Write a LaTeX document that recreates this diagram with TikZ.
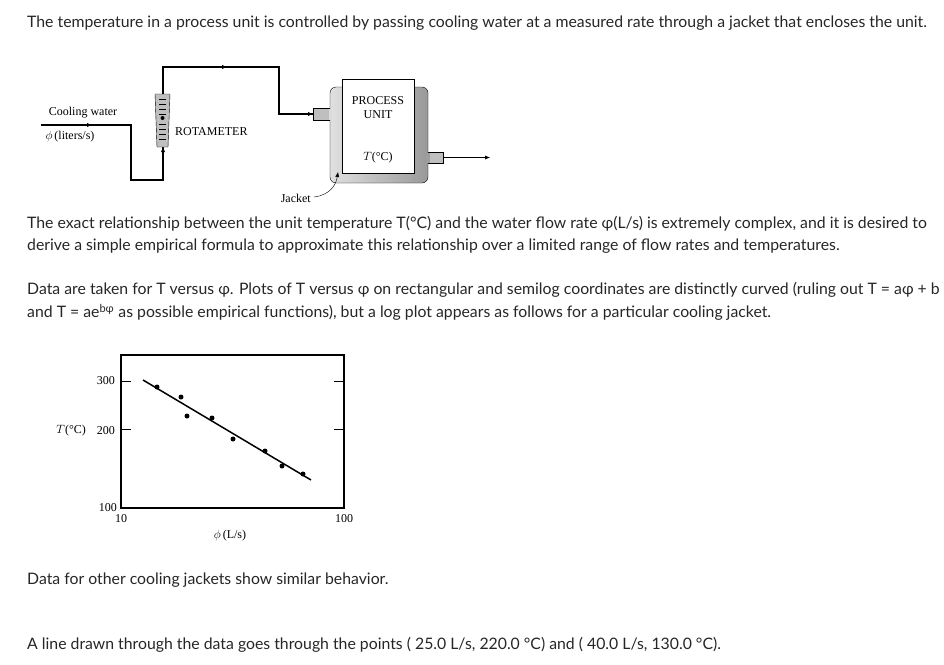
\documentclass[tikz,border=0pt]{standalone}
\usepackage{fontspec}
\setmainfont{Lato}
\newfontfamily\tms{Liberation Serif}
\usetikzlibrary{arrows.meta}
\begin{document}
\begin{tikzpicture}[x=1pt,y=-1pt,
  body/.style={anchor=west,inner sep=0,font=\fontsize{15.8}{18}\selectfont,text=black!85},
  lab/.style={inner sep=0,font=\tms\fontsize{12}{13}\selectfont},
  pipe/.style={line width=1.5pt},
  arr/.style={-{Latex[length=5pt,width=4pt]}},
  dot/.style={circle,fill,inner sep=0,minimum size=5pt}]
\useasboundingbox (0,0) rectangle (944,664);
\node[body] (t1) at (27,23) {The temperature in a process unit is controlled by passing cooling water at a measured rate through a jacket that encloses the unit.};
\node[body] (t2) at (27,224) {The exact relationship between the unit temperature T(°C) and the water flow rate φ(L/s) is extremely complex, and it is desired to};
\node[body] (t3) at (27,246) {derive a simple empirical formula to approximate this relationship over a limited range of flow rates and temperatures.};
\node[body] (t4) at (27,290) {Data are taken for T versus φ. Plots of T versus φ on rectangular and semilog coordinates are distinctly curved (ruling out T = aφ + b};
\node[body] (t5) at (27,312) {and T = ae\textsuperscript{bφ} as possible empirical functions), but a log plot appears as follows for a particular cooling jacket.};
\node[body] (t6) at (27,580) {Data for other cooling jackets show similar behavior.};
\node[body] (t7) at (27,645) {A line drawn through the data goes through the points ( 25.0 L/s, 220.0 °C) and ( 40.0 L/s, 130.0 °C).};
% process diagram
\coordinate (in) at (41,125);
\coordinate (rb) at (163,147);
\coordinate (rt) at (163,94);
\node[lab] (cw) at (83,113) {Cooling water};
\node[lab] (phi) at (70,137) {$\phi$\,(liters/s)};
\draw[pipe] (in) -- (131,125) -- (131,180) -- (163,180) -- (rb);
\draw[arr] (163,160) -- (rb);
\draw[arr] (60,125) -- (92,125);
\draw[fill=black!25] (155,94) -- (170,94) -- (168,147) -- (157,147) -- cycle;
\foreach \y in {99,104,109,114,124,129,134,139} \draw (159,\y) -- (166,\y);
\node[dot,minimum size=4pt] (fl) at (162.5,118) {};
\node[lab,anchor=west] (rot) at (175,132) {ROTAMETER};
\draw[pipe] (rt) -- (163,67) -- (279,67) -- (279,114) -- (313,114);
\draw[arr] (210,67) -- (227,67);
\draw[arr] (300,114) -- (313,114);
\draw[fill=black!25] (313,108) rectangle (331,120);
\draw[fill=black!25] (427,152) rectangle (443,163);
\draw[rounded corners=6pt,left color=black!12,right color=black!40] (330,87) rectangle (428,183);
\fill[black!14] (328.5,108.5) rectangle (332,119.5);
\fill[black!38] (426,152.5) rectangle (429.5,162.5);
\node[draw,fill=white,minimum width=72pt,minimum height=94pt,inner sep=0] (pu) at (378,126) {};
\node[lab] (pt) at (378,101) {PROCESS};
\node[lab] (pu2) at (378,115) {UNIT};
\node[lab] (tc) at (378,158) {$T$(°C)};
\draw[pipe] (443,157.5) -- (480,157.5);
\draw[arr] (470,157.5) -- (490,157.5);
\node[lab,anchor=east] (jk) at (311,198) {Jacket};
\draw[arr] (314,197) .. controls (330,195) and (336,185) .. (338,172);
% plot
\draw[line width=1.5pt] (121,355) rectangle (344,508);
\foreach \y in {381,429} {\draw (121,\y) -- (131,\y); \draw (334,\y) -- (344,\y);}
\draw[line width=1.5pt] (143,380) -- (311,480);
\foreach \p in {(157,387),(181,397),(187,416),(212,418),(233,439),(265,451),(282,466),(303,474)} \node[dot] at \p {};
\node[lab,anchor=east] (y3) at (115,381) {300};
\node[lab,anchor=east] (y2) at (115,431) {200};
\node[lab,anchor=east] (yl) at (86,431) {$T$(°C)};
\node[lab,anchor=east] (y1) at (117,508) {100};
\node[lab] (x1) at (121,519) {10};
\node[lab] (x2) at (344,519) {100};
\node[lab] (xl) at (230,536) {$\phi$\,(L/s)};
\end{tikzpicture}
\end{document}
